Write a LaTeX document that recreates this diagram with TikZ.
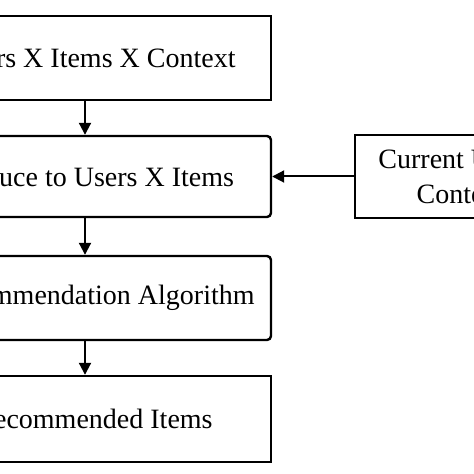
\documentclass[tikz,border=0pt]{standalone}
\usepackage{fontspec}
\setmainfont{Liberation Serif}
\usetikzlibrary{positioning,arrows.meta}
\tikzset{stage/.style={draw,line width=2.4pt,minimum width=354pt,minimum height=84pt,inner sep=0pt,align=center,font=\fontsize{28}{35}\selectfont},
         flow/.style={line width=2pt,-{Triangle[length=12pt,width=12pt]}}}

\begin{document}
\begin{tikzpicture}[x=1pt,y=1pt]
            \useasboundingbox (0,0) rectangle (474,474);
            \clip (0,0) rectangle (474,474);
            \node [stage] (full) at (94,416) {Users X Items X Context};
            \node [stage,rounded corners=4pt,minimum height=81pt] (reduce) at (94,297.5) {Reduce to Users X Items};
            \node [stage,rounded corners=4pt] (algo) at (94,176) {Recommendation Algorithm};
            \node [stage,minimum height=86pt] (items) at (94,55) {Recommended Items};
            \node [stage,minimum width=212pt,minimum height=83pt] (user) at (461,297.5) {Current User's\\Context};
            \foreach \a/\b in {full/reduce,reduce/algo,algo/items} {
                \draw [flow] ([xshift=-9pt]\a.south) -- ([xshift=-9pt]\b.north);
            }
            \draw [flow] (user.west) -- (reduce.east);
        \end{tikzpicture}
\end{document}
